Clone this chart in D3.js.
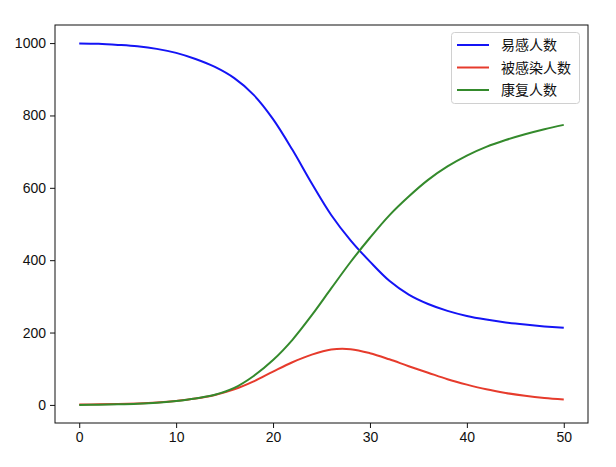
<!DOCTYPE html>
<html><head><meta charset="utf-8">
<script src="https://cdn.jsdelivr.net/npm/d3@7"></script>
<style>
body{margin:0;background:#fff;}
svg{display:block;}
text{font-family:"Liberation Sans",Arial,"Noto Sans CJK SC",sans-serif;}
</style></head><body>
<svg id="c" width="616" height="467"></svg>
<script>
const days = [0,2,4,6,8,10,12,14,16,18,20,22,24,26,28,30,32,34,36,38,40,42,44,46,48,50];
const susceptible = [999,998,995,991,984,973,956,934,903,857,790,705,612,525,455,396,343,305,279,260,246,236,228,222,217,213];
const infected = [1,1.6,2.6,4.2,6.8,11,17.5,27.5,43,65,92,118,139,153,154,143,126,107,89,71,56,43,33,25,19,15];
const recovered = [0,0.6,1.6,3.2,6,11,18,28,47,80,124,180,248,322,395,462,524,576,622,659,689,713,732,748,762,774];
const seriesNames = ["易感人数","被感染人数","康复人数"];
const seriesColors = ["#1414f5","#e63b2c","#348a2c"];
const xTicks = [0,10,20,30,40,50];
const yTicks = [0,200,400,600,800,1000];

const svg = d3.select("#c");
const L=55,R=588,T=25,B=423;
const x = d3.scaleLinear().domain([-2.5,52.5]).range([L,R]);
const y = d3.scaleLinear().domain([-50,1050]).range([B,T]);

const ser = [susceptible, infected, recovered];
const line = d3.line().x((d,i)=>x(days[i])).y(d=>y(d)).curve(d3.curveCatmullRom.alpha(0.5));
const g = svg.append("g");
ser.forEach((s,k)=>{
  g.append("path").datum(s).attr("d",line).attr("fill","none")
   .attr("stroke",seriesColors[k]).attr("stroke-width",2);
});

const xa = svg.append("g").attr("transform",`translate(0,${B})`)
  .call(d3.axisBottom(x).tickValues(xTicks).tickSize(5).tickPadding(4).tickFormat(d3.format("d")));
const ya = svg.append("g").attr("transform",`translate(${L},0)`)
  .call(d3.axisLeft(y).tickValues(yTicks).tickSize(5).tickPadding(4).tickFormat(d3.format("d")));
[xa,ya].forEach(a=>{
  a.select(".domain").remove();
  a.selectAll("text").attr("font-size",14).attr("fill","#111").attr("font-family","'Liberation Sans',Arial,sans-serif");
  a.selectAll("line").attr("stroke","#111").attr("stroke-width",1);
});
svg.append("rect").attr("x",L).attr("y",T).attr("width",R-L).attr("height",B-T)
  .attr("fill","none").attr("stroke","#111").attr("stroke-width",1);

// legend
const lg = svg.append("g");
lg.append("rect").attr("x",451.5).attr("y",32.5).attr("width",128).attr("height",71).attr("rx",3)
  .attr("fill","#fff").attr("fill-opacity",0.8).attr("stroke","#d0d0d0");
seriesNames.forEach((n,k)=>{
  const yy = 45 + k*22.5;
  lg.append("line").attr("x1",457).attr("x2",489).attr("y1",yy).attr("y2",yy)
    .attr("stroke",seriesColors[k]).attr("stroke-width",2);
  lg.append("text").attr("x",501).attr("y",yy+5).text(n)
    .attr("font-size",14).attr("fill","#111").attr("font-family","'Noto Sans CJK SC',sans-serif");
});
</script></body></html>
